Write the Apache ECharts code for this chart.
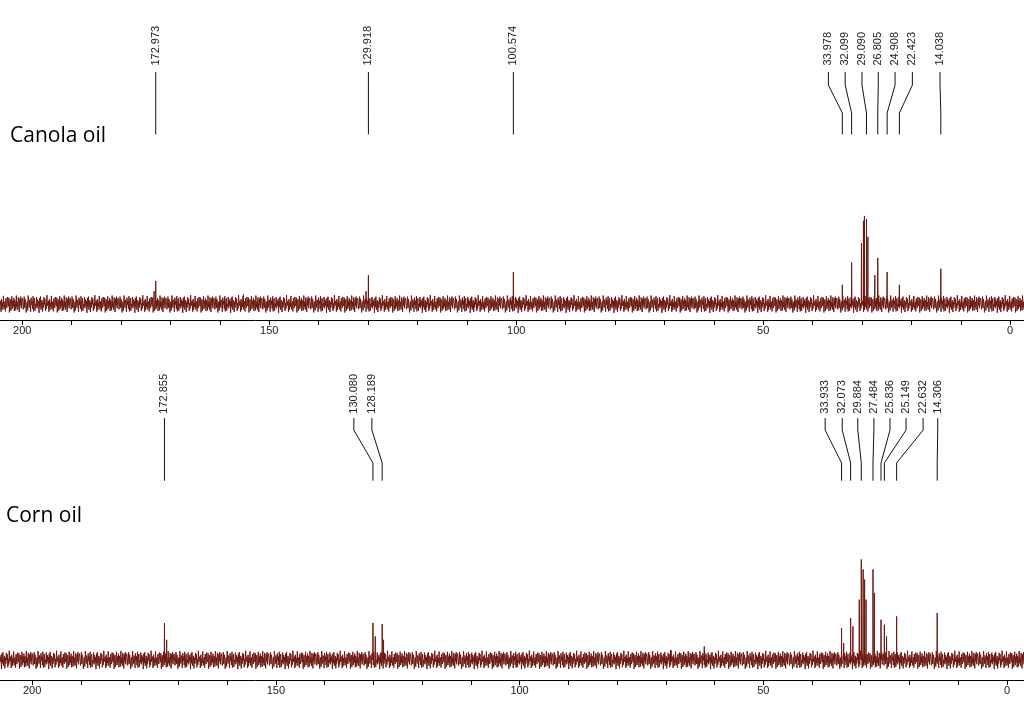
<!DOCTYPE html>
<html><head><meta charset="utf-8">
<script src="https://cdn.jsdelivr.net/npm/echarts@6/dist/echarts.min.js"></script>
<style>html,body{margin:0;padding:0;background:#fff}#c{width:1024px;height:713px}</style>
</head><body><div id="c"></div>
<script>
// Canola oil peaks [ppm, height]
const canolaPeaks = [[172.973,12.2],[129.918,14],[130.4,9],[100.574,15],[33.978,11],[32.099,18],[30.1,24],[29.7,31],[29.5,32.5],[29.09,31.5],[28.8,26],[27.4,14],[26.805,19.4],[24.908,15],[22.423,11],[14.038,16],[173.3,9],[155.2,8]];
const cornPeaks = [[172.855,17],[172.4,12],[130.080,17],[129.6,13],[128.189,16.7],[127.9,12],[33.933,15.5],[33.5,11],[32.073,18.5],[31.6,16],[30.3,24],[29.884,36],[29.5,33],[29.2,30],[28.9,24],[27.484,33],[27.2,26],[25.836,18],[25.149,16.5],[24.7,13],[22.632,19],[14.306,20],[69.0,9],[62.1,10]];
// labels: [text, peak ppm, label ppm]
const canolaLabels = [["172.973",172.973,172.973],["129.918",129.918,129.918],["100.574",100.574,100.574],["33.978",33.978,36.8],["32.099",32.099,33.4],["29.090",29.09,30.0],["26.805",26.805,26.7],["24.908",24.908,23.3],["22.423",22.423,19.8],["14.038",14.038,14.2]];
const cornLabels = [["172.855",172.855,172.855],["130.080",130.08,134.0],["128.189",128.189,130.3],["33.933",33.933,37.3],["32.073",32.073,33.8],["29.884",29.884,30.6],["27.484",27.484,27.3],["25.836",25.836,24.0],["25.149",25.149,20.7],["22.632",22.632,17.2],["14.306",14.306,14.2]];
const tickLabels = [0,50,100,150,200];
const tickValues = [0,10,20,30,40,50,60,70,80,90,100,110,120,130,140,150,160,170,180,190,200];
// hand-typed baseline noise pattern
const noise = [0.8,-1.2,2.1,-0.4,1.5,-2.3,0.2,1.9,-1.6,0.6,-0.9,2.4,-1.8,0.3,1.1,-2.0,1.7,-0.7,0.9,-1.4,2.2,-0.2,-1.9,1.3,0.5,-2.4,1.8,-0.6,0.1,2.0,-1.1,-0.3,1.6,-2.1,0.7,1.2,-1.5,2.3,-0.8,0.4,-1.7,1.4,-2.2,0.9,1.0,-0.5,2.5,-1.3,0.2,-2.0,1.5,-0.1,1.9,-1.0,0.6,-2.3,1.1,0.3,-1.6,2.1,-0.9,1.7,-2.5,0.8,-0.4,1.3,-1.2,2.0,-0.7,0.0,-1.9,1.6,0.5,-2.1,2.2,-1.4,0.9,-0.2,1.8,-2.2,0.4,1.2,-1.0,-0.6,2.4,-1.8,0.7,1.0,-2.4,0.3,1.4,-1.1,2.1,-0.3,-1.5,0.6,1.7];

function buildSeries(peaks, base){
  const pts=[];
  for(let i=0;i<=2110;i++){ const x=-3.6+i*0.1; pts.push([+x.toFixed(2), base+noise[i%noise.length]*1.1]); }
  peaks.forEach(p=>{ pts.push([p[0]+0.04,base],[p[0],p[1]],[p[0]-0.04,base]); });
  pts.sort((a,b)=>a[0]-b[0]);
  return pts;
}
function labelSeries(gi, labels, lv){
  return {type:'custom',xAxisIndex:gi,yAxisIndex:gi,silent:true,clip:false,
    data:labels.map(l=>[l[1],l[2]]),
    renderItem:function(params,api){
      const l=labels[params.dataIndex];
      const pk=api.value(0), lp=api.value(1);
      const p0=api.coord([lp,lv[1]]), p1=api.coord([lp,lv[2]]), p2=api.coord([pk,lv[3]]), p3=api.coord([pk,lv[4]]);
      const t=api.coord([lp,lv[0]]);
      return {type:'group',children:[
        {type:'polyline',shape:{points:[p0,p1,p2,p3]},style:{stroke:'#111',lineWidth:1,fill:null}},
        {type:'text',x:t[0],y:t[1],rotation:Math.PI/2,style:{text:l[0],font:'11px "Liberation Sans", Arial',fill:'#222',align:'left',verticalAlign:'middle'}}
      ]};
    }};
}
function xAxis(gi,min,max){
  return {type:'value',gridIndex:gi,inverse:true,min:min,max:max,
    axisLine:{onZero:false,lineStyle:{color:'#000',width:1}},
    axisTick:{length:5,lineStyle:{color:'#000'},customValues:tickValues},
    splitLine:{show:false},
    axisLabel:{fontSize:11,color:'#222',margin:5,fontFamily:'Liberation Sans',customValues:tickLabels}};
}
const chart=echarts.init(document.getElementById('c'),null,{renderer:'canvas'});
chart.setOption({
  animation:false,
  grid:[{left:0,right:0,top:0,height:320},{left:0,right:0,top:345,height:335}],
  xAxis:[xAxis(0,-2.8,204.5),xAxis(1,-3.5,206.6)],
  yAxis:[{type:'value',gridIndex:0,min:0,max:100,show:false},{type:'value',gridIndex:1,min:0,max:100,show:false}],
  series:[
    {type:'line',xAxisIndex:0,yAxisIndex:0,data:buildSeries(canolaPeaks,5),showSymbol:false,lineStyle:{color:'#6b1a12',width:1},silent:true},
    {type:'line',xAxisIndex:1,yAxisIndex:1,data:buildSeries(cornPeaks,6),showSymbol:false,lineStyle:{color:'#6b1a12',width:1},silent:true},
    labelSeries(0,canolaLabels,[79.5,77.5,73.4,64.7,58]),
    labelSeries(1,cornLabels,[79.5,78.2,74.6,64.8,59.5])
  ],
  graphic:[
    {type:'text',left:10,top:126,style:{text:'Canola oil',font:'21px "Open Sans"',fill:'#000'}},
    {type:'text',left:6,top:506,style:{text:'Corn oil',font:'21px "Open Sans"',fill:'#000'}}
  ]
});
</script></body></html>
